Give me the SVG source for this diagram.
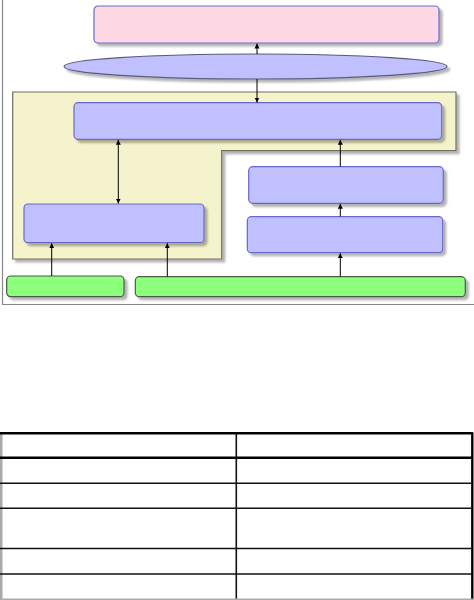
<svg xmlns="http://www.w3.org/2000/svg" width="474" height="600" viewBox="0 0 474 600">
<defs>
<filter id="sh" x="-5%" y="-20%" width="110%" height="150%">
<feGaussianBlur in="SourceAlpha" stdDeviation="1"/>
<feOffset dx="3" dy="3" result="b"/>
<feComponentTransfer><feFuncA type="linear" slope="0.3"/></feComponentTransfer>
<feMerge><feMergeNode/><feMergeNode in="SourceGraphic"/></feMerge>
</filter>
<marker id="ah" viewBox="0 0 10 10" refX="10" refY="5" markerWidth="5" markerHeight="6" orient="auto-start-reverse" markerUnits="userSpaceOnUse">
<path d="M0,0 L10,5 L0,10 z" fill="#000"/>
</marker>
</defs>
<style>
.blue{fill:#c0c0ff;stroke:#6868cc;stroke-width:1.2}
.pink{fill:#fed8e5;stroke:#6868cc;stroke-width:1.2}
.green{fill:#8cff7c;stroke:#4a5a4a;stroke-width:1.2}
.ell{fill:#c0c0ff;stroke:#5a5a7a;stroke-width:1.2}
.yel{fill:#f5f3cc;stroke:#6f6f62;stroke-width:1.2}
.c{stroke:#000;stroke-width:1;fill:none}
.tl{stroke:#111;stroke-width:1.6}
.tt{stroke:#000;stroke-width:2.4}
</style>
<rect width="474" height="600" fill="#fff"/>
<g id="frame">
<line x1="2.5" y1="0" x2="2.5" y2="304.5" stroke="#888" stroke-width="1.2"/>
<line x1="2" y1="304.5" x2="474" y2="304.5" stroke="#888" stroke-width="1.2"/>
</g>
<g id="region">
<path class="yel" filter="url(#sh)" d="M12.7,92 H456 V150.7 H221.7 V259 H12.7 Z"/>
</g>
<g id="pink-top"><rect class="pink" filter="url(#sh)" x="94" y="6" width="345" height="37" rx="4"/></g>
<g id="ellipse"><ellipse class="ell" filter="url(#sh)" cx="255.5" cy="66.5" rx="191.5" ry="12.5"/></g>
<g id="blue-top"><rect class="blue" filter="url(#sh)" x="74" y="102.7" width="367.7" height="36.6" rx="4"/></g>
<g id="blue-left"><rect class="blue" filter="url(#sh)" x="24" y="204" width="180" height="38.7" rx="4"/></g>
<g id="blue-right1"><rect class="blue" filter="url(#sh)" x="248.7" y="166.7" width="194.6" height="36.6" rx="4"/></g>
<g id="blue-right2"><rect class="blue" filter="url(#sh)" x="247.3" y="216.7" width="195.4" height="36" rx="4"/></g>
<g id="green-left"><rect class="green" filter="url(#sh)" x="6.7" y="276" width="117.3" height="20.7" rx="4"/></g>
<g id="green-right"><rect class="green" filter="url(#sh)" x="135.3" y="276.7" width="330" height="20" rx="4"/></g>
<g id="connectors">
<line class="c" x1="257" y1="54" x2="257" y2="43.5" marker-end="url(#ah)"/>
<line class="c" x1="257" y1="79" x2="257" y2="102.5" marker-end="url(#ah)"/>
<line class="c" x1="118.3" y1="139.8" x2="118.3" y2="203.5" marker-start="url(#ah)" marker-end="url(#ah)"/>
<line class="c" x1="340.3" y1="166.5" x2="340.3" y2="139.8" marker-end="url(#ah)"/>
<line class="c" x1="340.3" y1="216.5" x2="340.3" y2="203.8" marker-end="url(#ah)"/>
<line class="c" x1="340.3" y1="276.5" x2="340.3" y2="253.2" marker-end="url(#ah)"/>
<line class="c" x1="51.7" y1="276" x2="51.7" y2="243.2" marker-end="url(#ah)"/>
<line class="c" x1="167.3" y1="276.5" x2="167.3" y2="243.2" marker-end="url(#ah)"/>
</g>
<g id="table">
<rect x="0" y="434" width="2.5" height="166" fill="#aaa"/>
<line class="tt" x1="0" y1="433.3" x2="473" y2="433.3"/>
<line class="tt" x1="0" y1="457.7" x2="473" y2="457.7"/>
<line class="tl" x1="0" y1="483.3" x2="472" y2="483.3"/>
<line class="tl" x1="0" y1="508.3" x2="472" y2="508.3"/>
<line class="tl" x1="0" y1="548.5" x2="472" y2="548.5"/>
<line class="tl" x1="0" y1="574" x2="472" y2="574"/>
<line class="tl" x1="236.3" y1="433" x2="236.3" y2="600"/>
<line class="tt" x1="472.3" y1="432.5" x2="472.3" y2="600"/>
<line x1="0" y1="599.3" x2="474" y2="599.3" stroke="#aaa" stroke-width="1.4"/>
</g>
</svg>
